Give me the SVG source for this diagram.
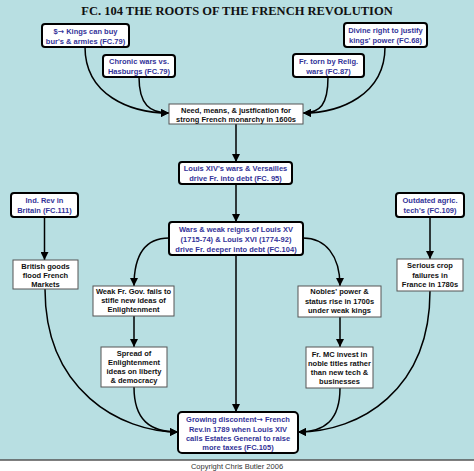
<svg xmlns="http://www.w3.org/2000/svg" width="474" height="471" viewBox="0 0 474 471">
<defs>
<marker id="ah" viewBox="0 0 10 10" refX="10" refY="5" markerWidth="8" markerHeight="8" markerUnits="userSpaceOnUse" orient="auto">
<path d="M0,0 L10,5 L0,10 z" fill="#000"/>
</marker>
<style>
.bg{fill:#b8dfe2}
.rb{fill:#fff;stroke:#000;stroke-width:2}
.sb{fill:#fff;stroke:#555;stroke-width:1}
.bt{font-family:"Liberation Sans",Arial,sans-serif;font-weight:bold;font-size:7.5px;fill:#333399;text-anchor:middle}
.kt{font-family:"Liberation Sans",Arial,sans-serif;font-weight:bold;font-size:7.5px;fill:#111;text-anchor:middle}
.ar{font-family:"DejaVu Sans",sans-serif;font-weight:bold}
.cn{fill:none;stroke:#000;stroke-width:1.5;marker-end:url(#ah)}
</style>
</defs>
<rect class="bg" x="0" y="0" width="474" height="460"/>
<rect x="0" y="460" width="474" height="11" fill="#fff"/>
<line x1="0" y1="460" x2="474" y2="460" stroke="#555" stroke-width="1.5"/>
<text x="237" y="15" font-family="'Liberation Serif','Times New Roman',serif" font-weight="bold" font-size="12.5" fill="#111" text-anchor="middle">FC. 104 THE ROOTS OF THE FRENCH REVOLUTION</text>
<text x="237" y="469" font-family="'Liberation Sans',Arial,sans-serif" font-size="7.5" fill="#333" text-anchor="middle">Copyright Chris Butler 2006</text>

<g id="connectors">
<path class="cn" d="M85,47 C85,95 130,113 169,113"/>
<path class="cn" d="M139,77 C139,105 150,113 169,113"/>
<path class="cn" d="M328,77 C328,105 320,113 303,113"/>
<path class="cn" d="M385,47 C385,95 340,113 303,113"/>
<path class="cn" d="M236,124 L236,162"/>
<path class="cn" d="M236,184 L236,222"/>
<path class="cn" d="M169,238 C145,238 134,255 134,286"/>
<path class="cn" d="M303,238 C325,238 340,255 340,286"/>
<path class="cn" d="M44.5,217 L44.5,260"/>
<path class="cn" d="M134,316 L134,347"/>
<path class="cn" d="M430,217 L430,259"/>
<path class="cn" d="M340,317 L340,347"/>
<path class="cn" d="M236,255 L236,412"/>
<path class="cn" d="M45,289 C45,390 120,432 178,432"/>
<path class="cn" d="M134,387 C134,420 150,432 178,432"/>
<path class="cn" d="M340,388 C340,420 325,432 298,432"/>
<path class="cn" d="M430,291 C430,390 360,432 298,432"/>
</g>

<g id="n1"><rect class="rb" x="42" y="24" width="87" height="23" rx="3"/>
<text class="bt" x="85.5" y="33.5">$<tspan class="ar">→</tspan> Kings can buy</text><text class="bt" x="85.5" y="43.5">bur's &amp; armies (FC.79)</text></g>
<g id="n2"><rect class="rb" x="103" y="55" width="72" height="22" rx="3"/>
<text class="bt" x="139" y="64">Chronic wars vs.</text><text class="bt" x="139" y="74">Hasburgs (FC.79)</text></g>
<g id="n3"><rect class="rb" x="293" y="54" width="71" height="23" rx="3"/>
<text class="bt" x="328.5" y="63.5">Fr. torn by Relig.</text><text class="bt" x="328.5" y="73.5">wars (FC.87)</text></g>
<g id="n4"><rect class="rb" x="344" y="23" width="83" height="24" rx="3"/>
<text class="bt" x="385.5" y="33">Divine right to justify</text><text class="bt" x="385.5" y="43">kings' power (FC.68)</text></g>
<g id="n5"><rect class="sb" x="169" y="104" width="134" height="20"/>
<text class="kt" x="236" y="112.5">Need, means, &amp; justfication for</text><text class="kt" x="236" y="121.5">strong French monarchy in 1600s</text></g>
<g id="n6"><rect class="rb" x="179" y="162" width="113" height="22" rx="3"/>
<text class="bt" x="235.5" y="171">Louis XIV's wars &amp; Versailles</text><text class="bt" x="235.5" y="181">drive Fr. into debt (FC. 95)</text></g>
<g id="n7"><rect class="rb" x="169" y="222" width="134" height="33" rx="3"/>
<text class="bt" x="236" y="232">Wars &amp; weak reigns of Louis XV</text><text class="bt" x="236" y="242">(1715-74) &amp; Louis XVI (1774-92)</text><text class="bt" x="236" y="252">drive Fr. deeper into debt (FC.104)</text></g>
<g id="n8"><rect class="rb" x="11" y="193" width="67" height="24" rx="3"/>
<text class="bt" x="44.5" y="203">Ind. Rev in</text><text class="bt" x="44.5" y="213">Britain  (FC.111)</text></g>
<g id="n9"><rect class="sb" x="13" y="260" width="65" height="29"/>
<text class="kt" x="45.5" y="269">British goods</text><text class="kt" x="45.5" y="278">flood French</text><text class="kt" x="45.5" y="287">Markets</text></g>
<g id="n10"><rect class="sb" x="93" y="286" width="81" height="30"/>
<text class="kt" x="133.5" y="294">Weak Fr. Gov. fails to</text><text class="kt" x="133.5" y="303">stifle new ideas of</text><text class="kt" x="133.5" y="312">Enlightenment</text></g>
<g id="n11"><rect class="sb" x="101" y="347" width="66" height="40"/>
<text class="kt" x="134" y="356">Spread of</text><text class="kt" x="134" y="365">Enlightenment</text><text class="kt" x="134" y="374">ideas on  liberty</text><text class="kt" x="134" y="383">&amp; democracy</text></g>
<g id="n12"><rect class="rb" x="396" y="193" width="68" height="24" rx="3"/>
<text class="bt" x="430" y="203">Outdated agric.</text><text class="bt" x="430" y="213">tech's (FC.109)</text></g>
<g id="n13"><rect class="sb" x="397" y="259" width="66" height="32"/>
<text class="kt" x="430" y="268">Serious crop</text><text class="kt" x="430" y="277.5">failures in</text><text class="kt" x="430" y="287">France in 1780s</text></g>
<g id="n14"><rect class="sb" x="298" y="286" width="83" height="31"/>
<text class="kt" x="339.5" y="294">Nobles' power &amp;</text><text class="kt" x="339.5" y="303.5">status rise in 1700s</text><text class="kt" x="339.5" y="313">under weak kings</text></g>
<g id="n15"><rect class="sb" x="306" y="347" width="67" height="41"/>
<text class="kt" x="339.5" y="356.5">Fr. MC invest in</text><text class="kt" x="339.5" y="365.5">noble titles rather</text><text class="kt" x="339.5" y="374.5">than new tech &amp;</text><text class="kt" x="339.5" y="383.5">businesses</text></g>
<g id="n16"><rect class="rb" x="178" y="412" width="120" height="41" rx="4"/>
<text class="bt" x="238" y="422">Growing discontent<tspan class="ar">→</tspan> French</text><text class="bt" x="238" y="431.5">Rev.in 1789 when Louis XIV</text><text class="bt" x="238" y="441">calls Estates General to raise</text><text class="bt" x="238" y="450">more taxes (FC.105)</text></g>
</svg>
